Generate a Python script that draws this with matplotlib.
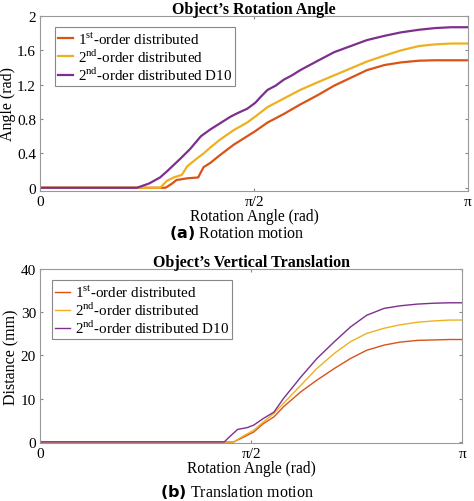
import numpy as np
import matplotlib.pyplot as plt

plt.rcParams['font.family'] = ['Liberation Serif', 'DejaVu Serif']
plt.rcParams['mathtext.fontset'] = 'custom'
plt.rcParams['mathtext.rm'] = 'Liberation Serif'
plt.rcParams['mathtext.bf'] = 'DejaVu Sans:bold'

labels = ["1$^{\\rm st}$-order distributed",
          "2$^{\\rm nd}$-order distributed",
          "2$^{\\rm nd}$-order distributed D10"]
colors = ["#D95319", "#EDB120", "#7E2F8E"]

# rotation angle (rad) vs input rotation
rot_x1 = [0, 0.92, 0.97, 1.0, 1.08, 1.16, 1.2, 1.25, 1.32, 1.42, 1.52, 1.58, 1.67, 1.79, 1.91,
          2.04, 2.16, 2.28, 2.4, 2.53, 2.65, 2.78, 2.9, 3.02, 3.1416]
rot_y1 = [0, 0, 0.05, 0.09, 0.11, 0.12, 0.24, 0.29, 0.38, 0.5, 0.6, 0.66, 0.76, 0.86, 0.97,
          1.08, 1.19, 1.28, 1.37, 1.43, 1.46, 1.48, 1.485, 1.485, 1.485]
rot_x2 = [0, 0.88, 0.93, 0.98, 1.04, 1.08, 1.15, 1.2, 1.25, 1.32, 1.42, 1.52, 1.58, 1.67, 1.79,
          1.91, 2.04, 2.16, 2.28, 2.4, 2.53, 2.65, 2.78, 2.9, 3.02, 3.1416]
rot_y2 = [0, 0, 0.08, 0.12, 0.15, 0.25, 0.34, 0.4, 0.47, 0.56, 0.67, 0.76, 0.83, 0.94, 1.04,
          1.14, 1.23, 1.31, 1.39, 1.47, 1.54, 1.6, 1.65, 1.67, 1.68, 1.68]
rot_x3 = [0, 0.71, 0.8, 0.88, 0.93, 1.03, 1.1, 1.18, 1.25, 1.32, 1.4, 1.45, 1.52, 1.58, 1.62,
          1.67, 1.73, 1.79, 1.85, 1.91, 2.04, 2.16, 2.28, 2.4, 2.53, 2.65, 2.78, 2.9, 3.02, 3.1416]
rot_y3 = [0, 0, 0.05, 0.12, 0.19, 0.34, 0.45, 0.6, 0.68, 0.75, 0.83, 0.87, 0.92, 0.99, 1.06,
          1.14, 1.19, 1.26, 1.31, 1.37, 1.48, 1.58, 1.65, 1.72, 1.77, 1.81, 1.84, 1.86, 1.87, 1.87]

# vertical translation (mm) vs input rotation
tr_x1 = [0, 1.44, 1.52, 1.59, 1.66, 1.74, 1.81, 1.94, 2.06, 2.19, 2.31, 2.43, 2.56, 2.68, 2.81,
         2.93, 3.05, 3.1416]
tr_y1 = [0, 0, 1.2, 2.3, 4.2, 5.8, 8.1, 11.6, 14.3, 17.0, 19.3, 21.2, 22.4, 23.1, 23.5,
         23.6, 23.7, 23.7]
tr_x2 = [0, 1.44, 1.52, 1.59, 1.66, 1.74, 1.81, 1.94, 2.06, 2.19, 2.31, 2.43, 2.56, 2.68, 2.81,
         2.93, 3.05, 3.1416]
tr_y2 = [0, 0, 1.5, 2.7, 4.6, 6.6, 8.9, 13.1, 17.0, 20.5, 23.2, 25.1, 26.3, 27.1, 27.7,
         28.0, 28.2, 28.2]
tr_x3 = [0, 1.37, 1.42, 1.47, 1.54, 1.59, 1.66, 1.74, 1.81, 1.94, 2.06, 2.19, 2.31, 2.43, 2.56,
         2.68, 2.81, 2.93, 3.05, 3.1416]
tr_y3 = [0, 0, 1.5, 2.9, 3.3, 3.9, 5.4, 6.9, 10.0, 15.0, 19.3, 23.2, 26.6, 29.3, 30.9,
         31.5, 31.9, 32.1, 32.2, 32.2]

rot_series = [(rot_x1, rot_y1), (rot_x2, rot_y2), (rot_x3, rot_y3)]
tr_series = [(tr_x1, tr_y1), (tr_x2, tr_y2), (tr_x3, tr_y3)]

fig = plt.figure(figsize=(4.74, 5.02), dpi=100)
ax1 = fig.add_axes([0.085, 0.618, 0.902, 0.348])
ax2 = fig.add_axes([0.085, 0.116, 0.89, 0.346])


def style(ax, title, ylabel, legend_at):
    ax.set_xlim(0, np.pi)
    ax.set_xticks([0, np.pi / 2, np.pi])
    ax.set_xticklabels(["0", "π/2", "π"])
    ax.set_title(title, fontsize=11.5, fontweight='bold', pad=2)
    ax.set_xlabel("Rotation Angle (rad)", fontsize=11.2, labelpad=0)
    ax.set_ylabel(ylabel, fontsize=11.5, labelpad=1)
    ax.tick_params(direction='in', length=2.5, labelsize=11, color='#888888',
                   top=True, right=True, pad=3)
    for s in ax.spines.values():
        s.set_color('#999999')
        s.set_linewidth(0.8)
    leg = ax.legend(loc='upper left', bbox_to_anchor=legend_at, fontsize=10.8,
                    handlelength=1.0, handletextpad=0.3, borderpad=0.2,
                    labelspacing=0.05, borderaxespad=0, fancybox=False, framealpha=1)
    leg.get_frame().set_edgecolor('#888888')
    leg.get_frame().set_linewidth(0.8)


for (x, y), c, lab in zip(rot_series, colors, labels):
    ax1.plot(x, y, color=c, lw=1.6, label=lab)
ax1.set_ylim(-0.035, 2)
ax1.set_yticks([0, 0.4, 0.8, 1.2, 1.6, 2])
ax1.set_yticklabels(["0", "0.4", "0.8", "1.2", "1.6", "2"])
style(ax1, "Object’s Rotation Angle", "Angle (rad)", (0.035, 0.937))

for (x, y), c, lab in zip(tr_series, colors, labels):
    ax2.plot(x, y, color=c, lw=1.0, label=lab)
ax2.set_ylim(-0.2, 40)
ax2.set_yticks([0, 10, 20, 30, 40])
style(ax2, "Object’s Vertical Translation", "Distance (mm)", (0.028, 0.936))

fig.text(0.5, 0.535, r"$\bf{(a)}$ Rotation motion", ha='center', va='center', fontsize=11.5)
fig.text(0.5, 0.02, r"$\bf{(b)}$ Translation motion", ha='center', va='center', fontsize=11.5)

fig.savefig("out.png", dpi=100)
